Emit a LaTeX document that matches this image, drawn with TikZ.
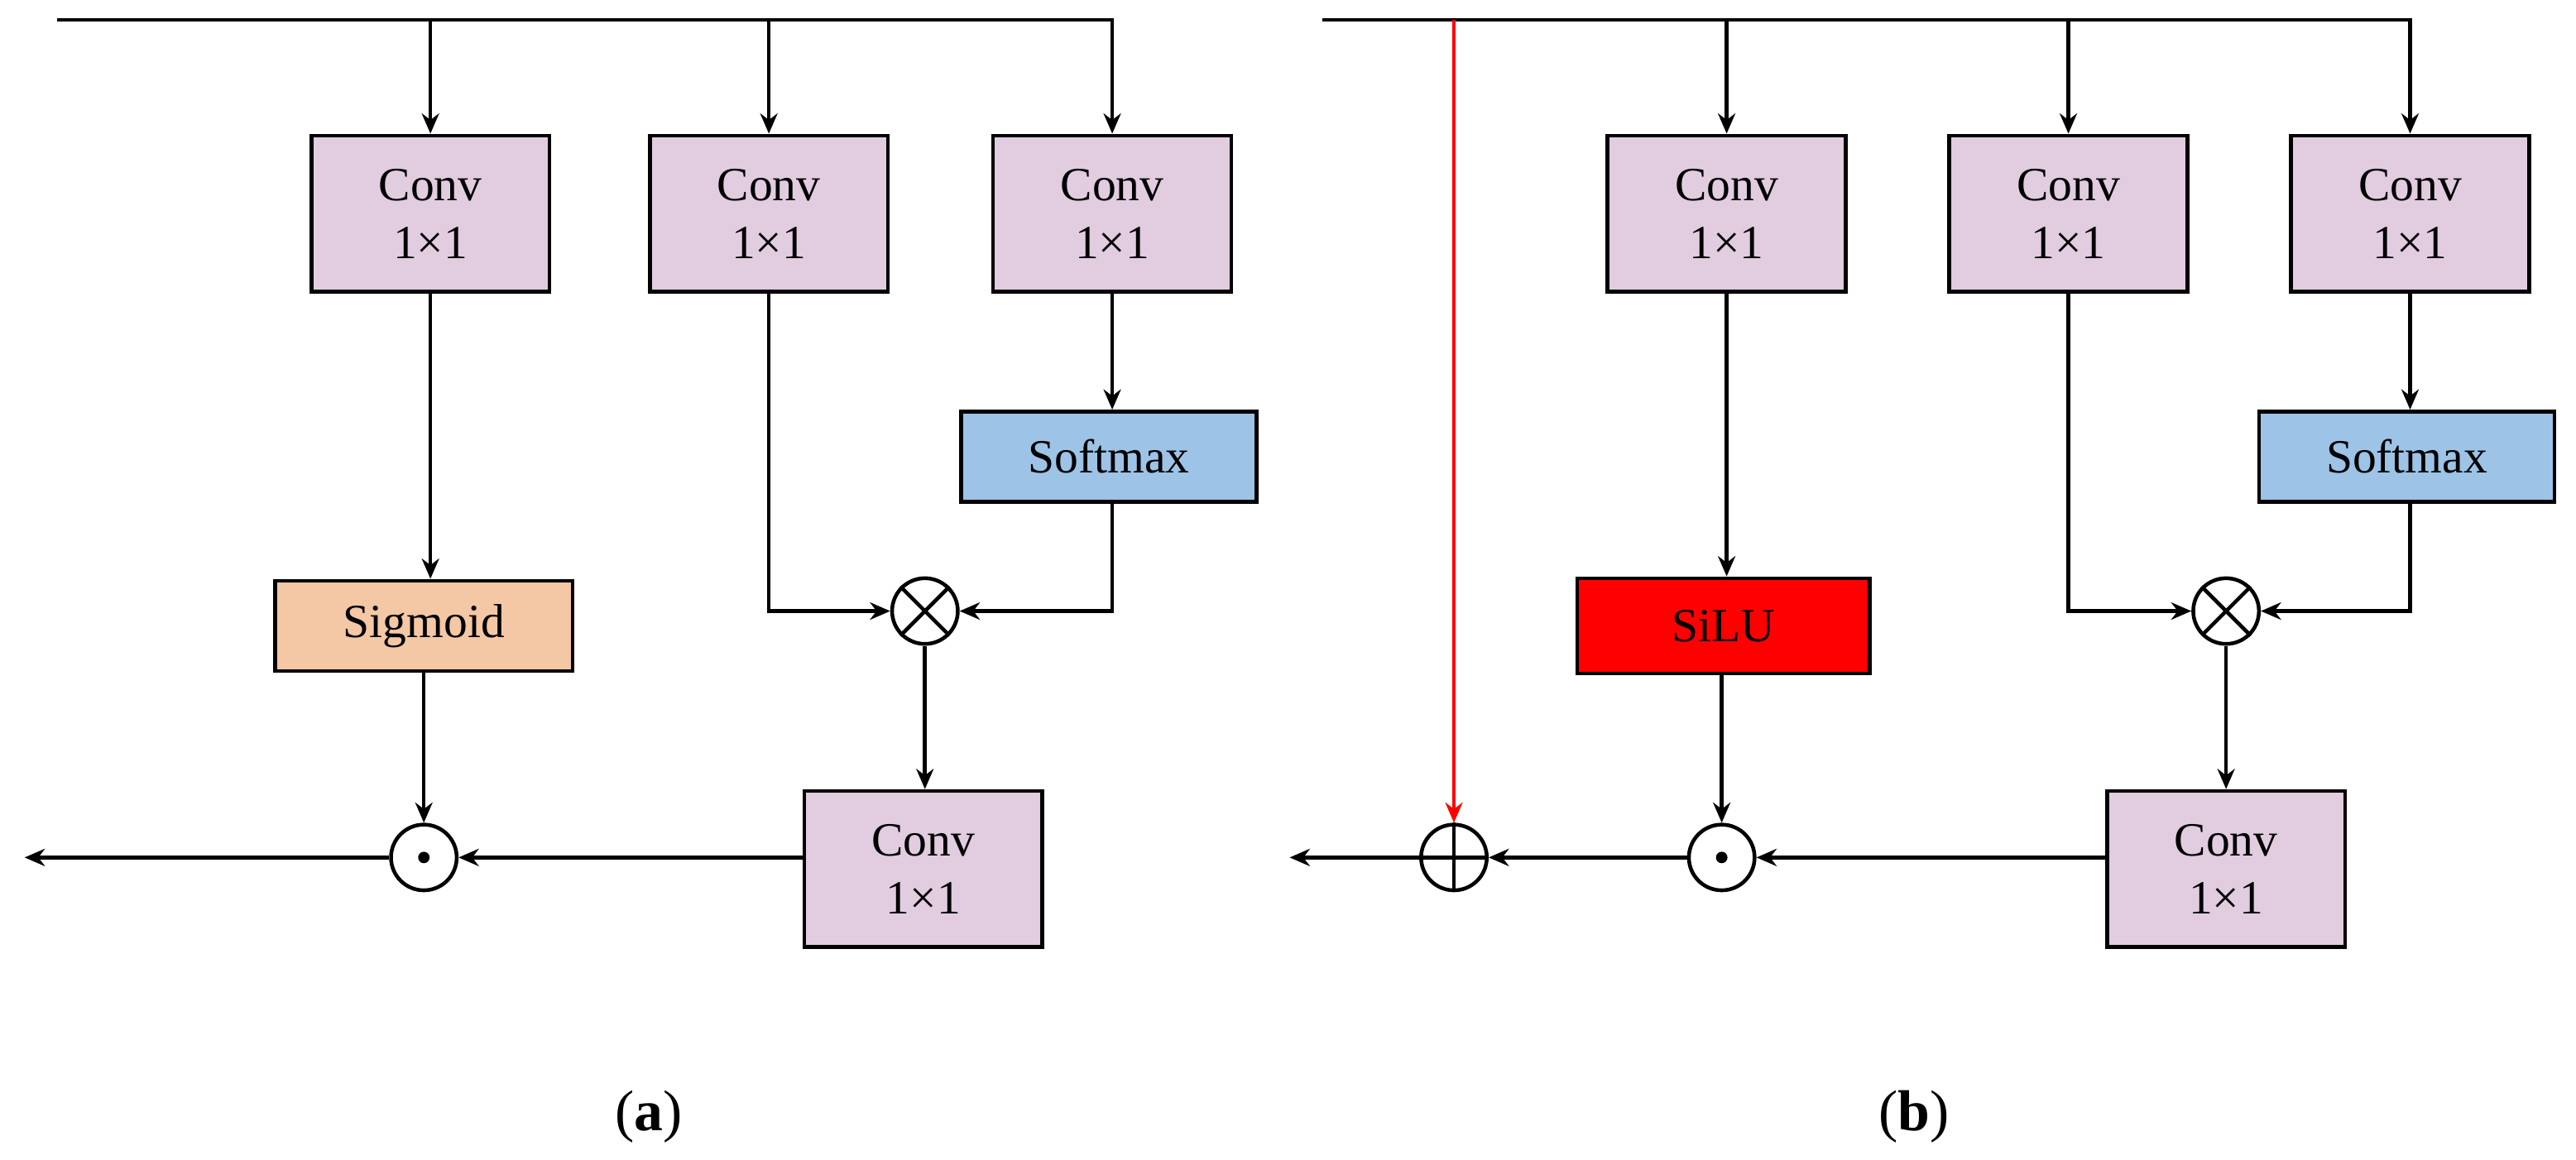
\documentclass[tikz,border=0pt]{standalone}
\usepackage{fontspec}
\setmainfont{Liberation Serif}
\usetikzlibrary{arrows.meta}
\definecolor{convc}{HTML}{E1CCE0}
\definecolor{softc}{HTML}{9DC3E6}
\definecolor{sigc}{HTML}{F4C7A5}
\begin{document}
\begin{tikzpicture}[x=0.02cm,y=-0.02cm,
  every node/.style={font=\fontsize{16.5}{20}\selectfont},
  box/.style={draw,line width=1.3pt,rectangle,align=center,inner sep=0pt},
  conv/.style={box,fill=convc,minimum width=2.9cm,minimum height=1.9cm},
  soft/.style={box,fill=softc,minimum width=3.6cm,minimum height=1.1cm},
  op/.style={draw,circle,line width=1.3pt,minimum size=0.8cm,inner sep=0pt},
  ln/.style={line width=1.3pt},
  arr/.style={line width=1.3pt,-{Stealth[length=7pt,width=6pt]}},
  lab/.style={font=\fontsize{20}{24}\selectfont}]
\useasboundingbox (0,0) rectangle (1568,706);
% (a)
\coordinate (ta) at (35,12); \coordinate (tae) at (678,12);
\draw[ln] (ta) -- (tae);
\node[conv] (a1) at (262,130) {Conv\\1×1};
\node[conv] (a2) at (468,130) {Conv\\1×1};
\node[conv] (a3) at (677,130) {Conv\\1×1};
\node[soft] (as) at (675,278) {Softmax};
\node[box,fill=sigc,minimum width=3.62cm,minimum height=1.1cm] (ag) at (258,381) {Sigmoid};
\node[op] (ax) at (563,372) {};
\draw[ln] (ax.north west)--(ax.south east) (ax.north east)--(ax.south west);
\node[conv] (a4) at (562,529) {Conv\\1×1};
\node[op] (ad) at (258,522) {};
\fill (ad) circle (3.5);
\coordinate (aout) at (15,522);
\draw[arr] (a1.north|-ta) -- (a1.north);
\draw[arr] (a2.north|-ta) -- (a2.north);
\draw[arr] (a3.north|-ta) -- (a3.north);
\draw[arr] (a3.south) -- (a3.south|-as.north);
\draw[arr] (a1.south) -- (a1.south|-ag.north);
\draw[arr] (a2.south) |- (ax.west);
\draw[arr] (as.south-|a3.south) |- (ax.east);
\draw[arr] (ax.south) -- (a4.north-|ax);
\draw[arr] (ag.south) -- (ad.north);
\draw[arr] (a4.west|-ad) -- (ad.east);
\draw[arr] (ad.west) -- (aout);
\node[lab] at (395,680) {(\textbf{a})};
% (b)
\coordinate (tb) at (805,12); \coordinate (tbe) at (1468,12);
\draw[ln] (tb) -- (tbe);
\node[conv] (b1) at (1051,130) {Conv\\1×1};
\node[conv] (b2) at (1259,130) {Conv\\1×1};
\node[conv] (b3) at (1467,130) {Conv\\1×1};
\node[soft] (bs) at (1465,278) {Softmax};
\node[box,fill=red,minimum width=3.56cm,minimum height=1.16cm] (bg) at (1049,381) {SiLU};
\node[op] (bx) at (1355,372) {};
\draw[ln] (bx.north west)--(bx.south east) (bx.north east)--(bx.south west);
\node[conv] (b4) at (1355,529) {Conv\\1×1};
\node[op] (bd) at (1048,522) {};
\fill (bd) circle (3.5);
\node[op] (bp) at (885,522) {};
\draw[ln] (bp.north)--(bp.south) (bp.west)--(bp.east);
\coordinate (bout) at (785,522);
\draw[arr,red] (bp.north|-tb) -- (bp.north);
\draw[arr] (b1.north|-tb) -- (b1.north);
\draw[arr] (b2.north|-tb) -- (b2.north);
\draw[arr] (b3.north|-tb) -- (b3.north);
\draw[arr] (b3.south) -- (b3.south|-bs.north);
\draw[arr] (b1.south) -- (b1.south|-bg.north);
\draw[arr] (b2.south) |- (bx.west);
\draw[arr] (bs.south-|b3.south) |- (bx.east);
\draw[arr] (bx.south) -- (b4.north-|bx);
\draw[arr] (bg.south-|bd) -- (bd.north);
\draw[arr] (b4.west|-bd) -- (bd.east);
\draw[arr] (bd.west) -- (bp.east);
\draw[arr] (bp.west) -- (bout);
\node[lab] at (1165,680) {(\textbf{b})};
\end{tikzpicture}
\end{document}
